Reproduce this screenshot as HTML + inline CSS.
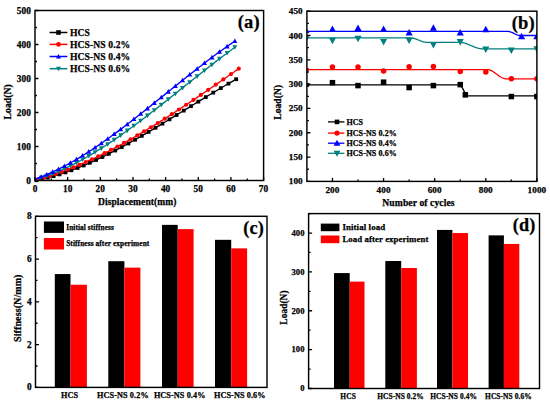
<!DOCTYPE html>
<html><head><meta charset="utf-8"><style>
html,body{margin:0;padding:0;background:#fff;width:550px;height:402px;overflow:hidden}
svg{display:block}
</style></head><body>
<svg width="550" height="402" viewBox="0 0 550 402">
<rect width="550" height="402" fill="#fff"/>
<path d="M35 180.5V177M67.66 180.5V177M100.31 180.5V177M132.97 180.5V177M165.63 180.5V177M198.29 180.5V177M230.94 180.5V177M263.6 180.5V177M51.33 180.5V178.5M83.99 180.5V178.5M116.64 180.5V178.5M149.3 180.5V178.5M181.96 180.5V178.5M214.61 180.5V178.5M247.27 180.5V178.5M35 180.5H38.5M35 146.5H38.5M35 112.5H38.5M35 78.5H38.5M35 44.5H38.5M35 10.5H38.5M35 163.5H37M35 129.5H37M35 95.5H37M35 61.5H37M35 27.5H37" stroke="#000" stroke-width="1.3" fill="none"/>
<text x="35" y="191.67" font-family="Liberation Serif" font-weight="bold" stroke="#000" stroke-width="0.25" letter-spacing="0.1" font-size="9.3" text-anchor="middle" >0</text>
<text x="67.66" y="191.67" font-family="Liberation Serif" font-weight="bold" stroke="#000" stroke-width="0.25" letter-spacing="0.1" font-size="9.3" text-anchor="middle" >10</text>
<text x="100.31" y="191.67" font-family="Liberation Serif" font-weight="bold" stroke="#000" stroke-width="0.25" letter-spacing="0.1" font-size="9.3" text-anchor="middle" >20</text>
<text x="132.97" y="191.67" font-family="Liberation Serif" font-weight="bold" stroke="#000" stroke-width="0.25" letter-spacing="0.1" font-size="9.3" text-anchor="middle" >30</text>
<text x="165.63" y="191.67" font-family="Liberation Serif" font-weight="bold" stroke="#000" stroke-width="0.25" letter-spacing="0.1" font-size="9.3" text-anchor="middle" >40</text>
<text x="198.29" y="191.67" font-family="Liberation Serif" font-weight="bold" stroke="#000" stroke-width="0.25" letter-spacing="0.1" font-size="9.3" text-anchor="middle" >50</text>
<text x="230.94" y="191.67" font-family="Liberation Serif" font-weight="bold" stroke="#000" stroke-width="0.25" letter-spacing="0.1" font-size="9.3" text-anchor="middle" >60</text>
<text x="263.6" y="191.67" font-family="Liberation Serif" font-weight="bold" stroke="#000" stroke-width="0.25" letter-spacing="0.1" font-size="9.3" text-anchor="middle" >70</text>
<text x="31" y="183.57" font-family="Liberation Serif" font-weight="bold" stroke="#000" stroke-width="0.25" letter-spacing="0.1" font-size="9.3" text-anchor="end" >0</text>
<text x="31" y="149.57" font-family="Liberation Serif" font-weight="bold" stroke="#000" stroke-width="0.25" letter-spacing="0.1" font-size="9.3" text-anchor="end" >100</text>
<text x="31" y="115.57" font-family="Liberation Serif" font-weight="bold" stroke="#000" stroke-width="0.25" letter-spacing="0.1" font-size="9.3" text-anchor="end" >200</text>
<text x="31" y="81.57" font-family="Liberation Serif" font-weight="bold" stroke="#000" stroke-width="0.25" letter-spacing="0.1" font-size="9.3" text-anchor="end" >300</text>
<text x="31" y="47.57" font-family="Liberation Serif" font-weight="bold" stroke="#000" stroke-width="0.25" letter-spacing="0.1" font-size="9.3" text-anchor="end" >400</text>
<text x="31" y="13.57" font-family="Liberation Serif" font-weight="bold" stroke="#000" stroke-width="0.25" letter-spacing="0.1" font-size="9.3" text-anchor="end" >500</text>
<text x="137.3" y="204.63" font-family="Liberation Serif" font-weight="bold" stroke="#000" stroke-width="0.25" letter-spacing="0.1" font-size="9.5" text-anchor="middle" >Displacement(mm)</text>
<text transform="translate(7.6,101.8) rotate(-90)" x="0" y="3.17" font-family="Liberation Serif" font-weight="bold" stroke="#000" stroke-width="0.25" letter-spacing="0.1" font-size="9.6" text-anchor="middle" >Load(N)</text>
<text x="248.8" y="28.11" font-family="Liberation Serif" font-weight="bold" stroke="#000" stroke-width="0.25" letter-spacing="0.1" font-size="18.5" text-anchor="middle" >(a)</text>
<path d="M35.98 180.33L37.66 180L39.34 179.65L41.03 179.29L42.71 178.92L44.39 178.53L46.07 178.12L47.76 177.7L49.44 177.26L51.12 176.81L52.8 176.35L54.48 175.87L56.17 175.37L57.85 174.86L59.53 174.34L61.21 173.81L62.9 173.26L64.58 172.7L66.26 172.12L67.94 171.54L69.62 170.94L71.31 170.32L72.99 169.7L74.67 169.06L76.35 168.41L78.04 167.75L79.72 167.08L81.4 166.4L83.08 165.7L84.77 165L86.45 164.28L88.13 163.56L89.81 162.82L91.49 162.07L93.18 161.31L94.86 160.55L96.54 159.77L98.22 158.98L99.91 158.18L101.59 157.38L103.27 156.56L104.95 155.74L106.63 154.91L108.32 154.07L110 153.22L111.68 152.36L113.36 151.5L115.05 150.63L116.73 149.74L118.41 148.86L120.09 147.96L121.77 147.06L123.46 146.15L125.14 145.24L126.82 144.32L128.5 143.39L130.19 142.45L131.87 141.51L133.55 140.57L135.23 139.62L136.91 138.66L138.6 137.7L140.28 136.73L141.96 135.76L143.64 134.78L145.33 133.8L147.01 132.82L148.69 131.83L150.37 130.83L152.06 129.84L153.74 128.84L155.42 127.83L157.1 126.83L158.78 125.82L160.47 124.8L162.15 123.79L163.83 122.77L165.51 121.75L167.2 120.73L168.88 119.7L170.56 118.67L172.24 117.65L173.92 116.62L175.61 115.59L177.29 114.56L178.97 113.52L180.65 112.49L182.34 111.46L184.02 110.42L185.7 109.39L187.38 108.36L189.06 107.32L190.75 106.29L192.43 105.26L194.11 104.22L195.79 103.19L197.48 102.16L199.16 101.14L200.84 100.11L202.52 99.08L204.21 98.06L205.89 97.04L207.57 96.02L209.25 95L210.93 93.99L212.62 92.98L214.3 91.97L215.98 90.97L217.66 89.96L219.35 88.97L221.03 87.97L222.71 86.98L224.39 85.99L226.07 85.01L227.76 84.03L229.44 83.06L231.12 82.09L232.8 81.13L234.49 80.17L236.17 79.22" stroke="#000000" stroke-width="1.35" fill="none" stroke-linejoin="round"/>
<rect x="234.27" y="77.32" width="3.8" height="3.8" fill="#000000"/>
<rect x="226.54" y="81.74" width="3.8" height="3.8" fill="#000000"/>
<rect x="218.89" y="86.21" width="3.8" height="3.8" fill="#000000"/>
<rect x="211.32" y="90.72" width="3.8" height="3.8" fill="#000000"/>
<rect x="203.83" y="95.23" width="3.8" height="3.8" fill="#000000"/>
<rect x="196.42" y="99.75" width="3.8" height="3.8" fill="#000000"/>
<rect x="189.09" y="104.24" width="3.8" height="3.8" fill="#000000"/>
<rect x="181.84" y="108.7" width="3.8" height="3.8" fill="#000000"/>
<rect x="174.66" y="113.1" width="3.8" height="3.8" fill="#000000"/>
<rect x="167.56" y="117.45" width="3.8" height="3.8" fill="#000000"/>
<rect x="160.53" y="121.72" width="3.8" height="3.8" fill="#000000"/>
<rect x="153.57" y="125.9" width="3.8" height="3.8" fill="#000000"/>
<rect x="146.69" y="129.99" width="3.8" height="3.8" fill="#000000"/>
<rect x="139.88" y="133.96" width="3.8" height="3.8" fill="#000000"/>
<rect x="133.14" y="137.82" width="3.8" height="3.8" fill="#000000"/>
<rect x="126.47" y="141.56" width="3.8" height="3.8" fill="#000000"/>
<rect x="119.88" y="145.16" width="3.8" height="3.8" fill="#000000"/>
<rect x="113.35" y="148.62" width="3.8" height="3.8" fill="#000000"/>
<rect x="106.89" y="151.93" width="3.8" height="3.8" fill="#000000"/>
<rect x="100.5" y="155.09" width="3.8" height="3.8" fill="#000000"/>
<rect x="94.17" y="158.09" width="3.8" height="3.8" fill="#000000"/>
<rect x="87.91" y="160.92" width="3.8" height="3.8" fill="#000000"/>
<rect x="81.72" y="163.58" width="3.8" height="3.8" fill="#000000"/>
<rect x="75.59" y="166.07" width="3.8" height="3.8" fill="#000000"/>
<rect x="69.53" y="168.38" width="3.8" height="3.8" fill="#000000"/>
<rect x="63.53" y="170.51" width="3.8" height="3.8" fill="#000000"/>
<rect x="57.59" y="172.45" width="3.8" height="3.8" fill="#000000"/>
<rect x="51.72" y="174.21" width="3.8" height="3.8" fill="#000000"/>
<rect x="45.91" y="175.78" width="3.8" height="3.8" fill="#000000"/>
<rect x="40.16" y="177.16" width="3.8" height="3.8" fill="#000000"/>
<rect x="34.47" y="178.35" width="3.8" height="3.8" fill="#000000"/>
<path d="M35.98 179.94L37.68 179.49L39.39 179.02L41.09 178.54L42.8 178.05L44.5 177.55L46.2 177.03L47.91 176.51L49.61 175.97L51.32 175.42L53.02 174.86L54.73 174.29L56.43 173.71L58.13 173.12L59.84 172.51L61.54 171.9L63.25 171.28L64.95 170.64L66.66 170L68.36 169.34L70.06 168.67L71.77 168L73.47 167.31L75.18 166.62L76.88 165.91L78.58 165.2L80.29 164.48L81.99 163.74L83.7 163L85.4 162.25L87.11 161.48L88.81 160.71L90.51 159.93L92.22 159.15L93.92 158.35L95.63 157.54L97.33 156.73L99.04 155.9L100.74 155.07L102.44 154.23L104.15 153.39L105.85 152.53L107.56 151.67L109.26 150.79L110.96 149.91L112.67 149.03L114.37 148.13L116.08 147.23L117.78 146.32L119.49 145.4L121.19 144.47L122.89 143.54L124.6 142.6L126.3 141.66L128.01 140.71L129.71 139.75L131.42 138.78L133.12 137.81L134.82 136.83L136.53 135.84L138.23 134.85L139.94 133.85L141.64 132.85L143.34 131.84L145.05 130.82L146.75 129.8L148.46 128.77L150.16 127.74L151.87 126.7L153.57 125.65L155.27 124.61L156.98 123.55L158.68 122.49L160.39 121.43L162.09 120.36L163.8 119.28L165.5 118.2L167.2 117.12L168.91 116.03L170.61 114.94L172.32 113.84L174.02 112.74L175.72 111.63L177.43 110.52L179.13 109.41L180.84 108.29L182.54 107.17L184.25 106.04L185.95 104.92L187.65 103.78L189.36 102.65L191.06 101.51L192.77 100.37L194.47 99.22L196.18 98.07L197.88 96.92L199.58 95.77L201.29 94.61L202.99 93.45L204.7 92.29L206.4 91.13L208.1 89.96L209.81 88.79L211.51 87.62L213.22 86.45L214.92 85.28L216.63 84.1L218.33 82.92L220.03 81.74L221.74 80.56L223.44 79.38L225.15 78.19L226.85 77.01L228.56 75.82L230.26 74.63L231.96 73.45L233.67 72.26L235.37 71.07L237.08 69.88L238.78 68.68" stroke="#ff0000" stroke-width="1.35" fill="none" stroke-linejoin="round"/>
<circle cx="238.78" cy="68.68" r="2.1" fill="#ff0000"/>
<circle cx="231.02" cy="74.1" r="2.1" fill="#ff0000"/>
<circle cx="223.35" cy="79.44" r="2.1" fill="#ff0000"/>
<circle cx="215.75" cy="84.7" r="2.1" fill="#ff0000"/>
<circle cx="208.24" cy="89.87" r="2.1" fill="#ff0000"/>
<circle cx="200.8" cy="94.94" r="2.1" fill="#ff0000"/>
<circle cx="193.44" cy="99.91" r="2.1" fill="#ff0000"/>
<circle cx="186.16" cy="104.77" r="2.1" fill="#ff0000"/>
<circle cx="178.96" cy="109.52" r="2.1" fill="#ff0000"/>
<circle cx="171.83" cy="114.15" r="2.1" fill="#ff0000"/>
<circle cx="164.78" cy="118.66" r="2.1" fill="#ff0000"/>
<circle cx="157.8" cy="123.04" r="2.1" fill="#ff0000"/>
<circle cx="150.89" cy="127.29" r="2.1" fill="#ff0000"/>
<circle cx="144.06" cy="131.41" r="2.1" fill="#ff0000"/>
<circle cx="137.3" cy="135.4" r="2.1" fill="#ff0000"/>
<circle cx="130.6" cy="139.24" r="2.1" fill="#ff0000"/>
<circle cx="123.98" cy="142.94" r="2.1" fill="#ff0000"/>
<circle cx="117.43" cy="146.5" r="2.1" fill="#ff0000"/>
<circle cx="110.95" cy="149.92" r="2.1" fill="#ff0000"/>
<circle cx="104.54" cy="153.19" r="2.1" fill="#ff0000"/>
<circle cx="98.19" cy="156.32" r="2.1" fill="#ff0000"/>
<circle cx="91.91" cy="159.29" r="2.1" fill="#ff0000"/>
<circle cx="85.69" cy="162.12" r="2.1" fill="#ff0000"/>
<circle cx="79.54" cy="164.79" r="2.1" fill="#ff0000"/>
<circle cx="73.46" cy="167.32" r="2.1" fill="#ff0000"/>
<circle cx="67.44" cy="169.7" r="2.1" fill="#ff0000"/>
<circle cx="61.48" cy="171.92" r="2.1" fill="#ff0000"/>
<circle cx="55.59" cy="174" r="2.1" fill="#ff0000"/>
<circle cx="49.75" cy="175.92" r="2.1" fill="#ff0000"/>
<circle cx="43.98" cy="177.7" r="2.1" fill="#ff0000"/>
<circle cx="38.27" cy="179.33" r="2.1" fill="#ff0000"/>
<path d="M35.98 179.21L37.65 178.74L39.32 178.25L40.99 177.74L42.66 177.21L44.34 176.66L46.01 176.1L47.68 175.51L49.35 174.91L51.02 174.29L52.69 173.65L54.36 172.99L56.04 172.32L57.71 171.62L59.38 170.92L61.05 170.19L62.72 169.45L64.39 168.69L66.06 167.92L67.73 167.13L69.41 166.33L71.08 165.51L72.75 164.67L74.42 163.82L76.09 162.96L77.76 162.08L79.43 161.19L81.1 160.28L82.78 159.36L84.45 158.42L86.12 157.48L87.79 156.52L89.46 155.54L91.13 154.56L92.8 153.56L94.47 152.55L96.15 151.52L97.82 150.49L99.49 149.44L101.16 148.39L102.83 147.32L104.5 146.24L106.17 145.15L107.84 144.05L109.52 142.94L111.19 141.82L112.86 140.69L114.53 139.55L116.2 138.41L117.87 137.25L119.54 136.08L121.21 134.91L122.89 133.72L124.56 132.53L126.23 131.33L127.9 130.13L129.57 128.91L131.24 127.69L132.91 126.46L134.59 125.23L136.26 123.99L137.93 122.74L139.6 121.49L141.27 120.23L142.94 118.96L144.61 117.69L146.28 116.41L147.96 115.13L149.63 113.85L151.3 112.56L152.97 111.26L154.64 109.96L156.31 108.66L157.98 107.35L159.65 106.04L161.33 104.73L163 103.42L164.67 102.1L166.34 100.78L168.01 99.45L169.68 98.13L171.35 96.8L173.02 95.47L174.7 94.14L176.37 92.81L178.04 91.48L179.71 90.15L181.38 88.81L183.05 87.48L184.72 86.15L186.39 84.81L188.07 83.48L189.74 82.15L191.41 80.82L193.08 79.48L194.75 78.16L196.42 76.83L198.09 75.5L199.76 74.18L201.44 72.86L203.11 71.54L204.78 70.22L206.45 68.91L208.12 67.6L209.79 66.29L211.46 64.99L213.14 63.69L214.81 62.39L216.48 61.1L218.15 59.81L219.82 58.53L221.49 57.25L223.16 55.98L224.83 54.71L226.51 53.45L228.18 52.2L229.85 50.95L231.52 49.7L233.19 48.47L234.86 47.24" stroke="#008080" stroke-width="1.35" fill="none" stroke-linejoin="round"/>
<path d="M234.86 49.86L237.39 45.27L232.33 45.27Z" fill="#008080"/>
<path d="M227.15 55.59L229.68 51L224.62 51Z" fill="#008080"/>
<path d="M219.51 61.39L222.04 56.8L216.98 56.8Z" fill="#008080"/>
<path d="M211.96 67.22L214.49 62.64L209.43 62.64Z" fill="#008080"/>
<path d="M204.48 73.08L207.01 68.49L201.95 68.49Z" fill="#008080"/>
<path d="M197.09 78.92L199.62 74.34L194.56 74.34Z" fill="#008080"/>
<path d="M189.77 84.75L192.3 80.16L187.24 80.16Z" fill="#008080"/>
<path d="M182.52 90.52L185.05 85.93L179.99 85.93Z" fill="#008080"/>
<path d="M175.36 96.24L177.89 91.65L172.83 91.65Z" fill="#008080"/>
<path d="M168.27 101.87L170.8 97.28L165.74 97.28Z" fill="#008080"/>
<path d="M161.25 107.41L163.78 102.82L158.72 102.82Z" fill="#008080"/>
<path d="M154.31 112.84L156.84 108.25L151.78 108.25Z" fill="#008080"/>
<path d="M147.44 118.15L149.97 113.56L144.91 113.56Z" fill="#008080"/>
<path d="M140.64 123.32L143.17 118.73L138.11 118.73Z" fill="#008080"/>
<path d="M133.91 128.35L136.44 123.76L131.38 123.76Z" fill="#008080"/>
<path d="M127.26 133.21L129.79 128.62L124.73 128.62Z" fill="#008080"/>
<path d="M120.67 137.91L123.2 133.32L118.14 133.32Z" fill="#008080"/>
<path d="M114.16 142.43L116.69 137.84L111.63 137.84Z" fill="#008080"/>
<path d="M107.71 146.76L110.24 142.17L105.18 142.17Z" fill="#008080"/>
<path d="M101.33 150.9L103.86 146.31L98.8 146.31Z" fill="#008080"/>
<path d="M95.01 154.84L97.54 150.25L92.48 150.25Z" fill="#008080"/>
<path d="M88.77 158.57L91.3 153.98L86.24 153.98Z" fill="#008080"/>
<path d="M82.59 162.08L85.12 157.5L80.06 157.5Z" fill="#008080"/>
<path d="M76.47 165.38L79 160.79L73.94 160.79Z" fill="#008080"/>
<path d="M70.42 168.45L72.95 163.87L67.89 163.87Z" fill="#008080"/>
<path d="M64.43 171.3L66.96 166.71L61.9 166.71Z" fill="#008080"/>
<path d="M58.5 173.91L61.03 169.32L55.97 169.32Z" fill="#008080"/>
<path d="M52.64 176.29L55.17 171.7L50.11 171.7Z" fill="#008080"/>
<path d="M46.84 178.43L49.37 173.84L44.31 173.84Z" fill="#008080"/>
<path d="M41.09 180.33L43.62 175.74L38.56 175.74Z" fill="#008080"/>
<path d="M35.98 178.78L37.65 178.19L39.32 177.57L40.99 176.93L42.66 176.27L44.34 175.6L46.01 174.91L47.68 174.2L49.35 173.47L51.02 172.72L52.69 171.96L54.36 171.18L56.04 170.38L57.71 169.56L59.38 168.73L61.05 167.89L62.72 167.03L64.39 166.15L66.06 165.25L67.73 164.35L69.41 163.42L71.08 162.49L72.75 161.53L74.42 160.57L76.09 159.59L77.76 158.6L79.43 157.59L81.1 156.57L82.78 155.54L84.45 154.49L86.12 153.44L87.79 152.37L89.46 151.29L91.13 150.19L92.8 149.09L94.47 147.98L96.15 146.85L97.82 145.72L99.49 144.57L101.16 143.42L102.83 142.25L104.5 141.07L106.17 139.89L107.84 138.7L109.52 137.5L111.19 136.29L112.86 135.07L114.53 133.84L116.2 132.61L117.87 131.37L119.54 130.12L121.21 128.86L122.89 127.6L124.56 126.33L126.23 125.06L127.9 123.77L129.57 122.49L131.24 121.2L132.91 119.9L134.59 118.6L136.26 117.29L137.93 115.98L139.6 114.67L141.27 113.35L142.94 112.02L144.61 110.7L146.28 109.37L147.96 108.04L149.63 106.7L151.3 105.37L152.97 104.03L154.64 102.69L156.31 101.34L157.98 100L159.65 98.65L161.33 97.31L163 95.96L164.67 94.62L166.34 93.27L168.01 91.92L169.68 90.58L171.35 89.23L173.02 87.89L174.7 86.54L176.37 85.2L178.04 83.86L179.71 82.52L181.38 81.19L183.05 79.85L184.72 78.52L186.39 77.19L188.07 75.87L189.74 74.55L191.41 73.23L193.08 71.92L194.75 70.61L196.42 69.3L198.09 68L199.76 66.71L201.44 65.42L203.11 64.13L204.78 62.85L206.45 61.58L208.12 60.31L209.79 59.05L211.46 57.8L213.14 56.55L214.81 55.32L216.48 54.08L218.15 52.86L219.82 51.65L221.49 50.44L223.16 49.24L224.83 48.05L226.51 46.87L228.18 45.7L229.85 44.54L231.52 43.38L233.19 42.24L234.86 41.11" stroke="#0000ff" stroke-width="1.35" fill="none" stroke-linejoin="round"/>
<path d="M234.86 38.49L237.39 43.08L232.33 43.08Z" fill="#0000ff"/>
<path d="M227.15 43.8L229.68 48.38L224.62 48.38Z" fill="#0000ff"/>
<path d="M219.51 49.25L222.04 53.84L216.98 53.84Z" fill="#0000ff"/>
<path d="M211.96 54.81L214.49 59.4L209.43 59.4Z" fill="#0000ff"/>
<path d="M204.48 60.46L207.01 65.05L201.95 65.05Z" fill="#0000ff"/>
<path d="M197.09 66.16L199.62 70.75L194.56 70.75Z" fill="#0000ff"/>
<path d="M189.77 71.9L192.3 76.49L187.24 76.49Z" fill="#0000ff"/>
<path d="M182.52 77.65L185.05 82.24L179.99 82.24Z" fill="#0000ff"/>
<path d="M175.36 83.39L177.89 87.98L172.83 87.98Z" fill="#0000ff"/>
<path d="M168.27 89.09L170.8 93.68L165.74 93.68Z" fill="#0000ff"/>
<path d="M161.25 94.75L163.78 99.33L158.72 99.33Z" fill="#0000ff"/>
<path d="M154.31 100.33L156.84 104.92L151.78 104.92Z" fill="#0000ff"/>
<path d="M147.44 105.83L149.97 110.42L144.91 110.42Z" fill="#0000ff"/>
<path d="M140.64 111.22L143.17 115.81L138.11 115.81Z" fill="#0000ff"/>
<path d="M133.91 116.5L136.44 121.09L131.38 121.09Z" fill="#0000ff"/>
<path d="M127.26 121.64L129.79 126.23L124.73 126.23Z" fill="#0000ff"/>
<path d="M120.67 126.65L123.2 131.24L118.14 131.24Z" fill="#0000ff"/>
<path d="M114.16 131.49L116.69 136.08L111.63 136.08Z" fill="#0000ff"/>
<path d="M107.71 136.17L110.24 140.76L105.18 140.76Z" fill="#0000ff"/>
<path d="M101.33 140.68L103.86 145.26L98.8 145.26Z" fill="#0000ff"/>
<path d="M95.01 144.99L97.54 149.58L92.48 149.58Z" fill="#0000ff"/>
<path d="M88.77 149.11L91.3 153.7L86.24 153.7Z" fill="#0000ff"/>
<path d="M82.59 153.03L85.12 157.62L80.06 157.62Z" fill="#0000ff"/>
<path d="M76.47 156.74L79 161.33L73.94 161.33Z" fill="#0000ff"/>
<path d="M70.42 160.24L72.95 164.82L67.89 164.82Z" fill="#0000ff"/>
<path d="M64.43 163.51L66.96 168.09L61.9 168.09Z" fill="#0000ff"/>
<path d="M58.5 166.55L61.03 171.14L55.97 171.14Z" fill="#0000ff"/>
<path d="M52.64 169.36L55.17 173.95L50.11 173.95Z" fill="#0000ff"/>
<path d="M46.84 171.93L49.37 176.52L44.31 176.52Z" fill="#0000ff"/>
<path d="M41.09 174.27L43.62 178.86L38.56 178.86Z" fill="#0000ff"/>
<path d="M49.6 32.5H67.4" stroke="#000000" stroke-width="1.5"/>
<rect x="56.2" y="30.2" width="4.6" height="4.6" fill="#000000"/>
<text x="70" y="35.67" font-family="Liberation Serif" font-weight="bold" stroke="#000" stroke-width="0.25" letter-spacing="0.1" font-size="9.6" text-anchor="start" >HCS</text>
<path d="M49.6 44.4H67.4" stroke="#ff0000" stroke-width="1.5"/>
<circle cx="58.5" cy="44.4" r="2.3" fill="#ff0000"/>
<text x="70" y="47.57" font-family="Liberation Serif" font-weight="bold" stroke="#000" stroke-width="0.25" letter-spacing="0.1" font-size="9.6" text-anchor="start" >HCS-NS 0.2%</text>
<path d="M49.6 56.5H67.4" stroke="#0000ff" stroke-width="1.5"/>
<path d="M58.5 53.88L61.03 58.47L55.97 58.47Z" fill="#0000ff"/>
<text x="70" y="59.67" font-family="Liberation Serif" font-weight="bold" stroke="#000" stroke-width="0.25" letter-spacing="0.1" font-size="9.6" text-anchor="start" >HCS-NS 0.4%</text>
<path d="M49.6 68.7H67.4" stroke="#008080" stroke-width="1.5"/>
<path d="M58.5 71.32L61.03 66.73L55.97 66.73Z" fill="#008080"/>
<text x="70" y="71.87" font-family="Liberation Serif" font-weight="bold" stroke="#000" stroke-width="0.25" letter-spacing="0.1" font-size="9.6" text-anchor="start" >HCS-NS 0.6%</text>
<rect x="35" y="10.5" width="228.6" height="170" fill="none" stroke="#000" stroke-width="1.45"/>
<path d="M332.46 181.4V177.9M383.57 181.4V177.9M434.68 181.4V177.9M485.79 181.4V177.9M536.9 181.4V177.9M358.01 181.4V179.4M409.12 181.4V179.4M460.23 181.4V179.4M511.34 181.4V179.4M306.9 181.4H310.4M306.9 157.09H310.4M306.9 132.77H310.4M306.9 108.46H310.4M306.9 84.14H310.4M306.9 59.83H310.4M306.9 35.51H310.4M306.9 11.2H310.4M306.9 169.24H308.9M306.9 144.93H308.9M306.9 120.61H308.9M306.9 96.3H308.9M306.9 71.99H308.9M306.9 47.67H308.9M306.9 23.36H308.9" stroke="#000" stroke-width="1.3" fill="none"/>
<text x="332.46" y="193.34" font-family="Liberation Serif" font-weight="bold" stroke="#000" stroke-width="0.25" letter-spacing="0.1" font-size="9.2" text-anchor="middle" >200</text>
<text x="383.57" y="193.34" font-family="Liberation Serif" font-weight="bold" stroke="#000" stroke-width="0.25" letter-spacing="0.1" font-size="9.2" text-anchor="middle" >400</text>
<text x="434.68" y="193.34" font-family="Liberation Serif" font-weight="bold" stroke="#000" stroke-width="0.25" letter-spacing="0.1" font-size="9.2" text-anchor="middle" >600</text>
<text x="485.79" y="193.34" font-family="Liberation Serif" font-weight="bold" stroke="#000" stroke-width="0.25" letter-spacing="0.1" font-size="9.2" text-anchor="middle" >800</text>
<text x="536.9" y="193.34" font-family="Liberation Serif" font-weight="bold" stroke="#000" stroke-width="0.25" letter-spacing="0.1" font-size="9.2" text-anchor="middle" >1000</text>
<text x="302.8" y="184.44" font-family="Liberation Serif" font-weight="bold" stroke="#000" stroke-width="0.25" letter-spacing="0.1" font-size="9.2" text-anchor="end" >100</text>
<text x="302.8" y="160.12" font-family="Liberation Serif" font-weight="bold" stroke="#000" stroke-width="0.25" letter-spacing="0.1" font-size="9.2" text-anchor="end" >150</text>
<text x="302.8" y="135.81" font-family="Liberation Serif" font-weight="bold" stroke="#000" stroke-width="0.25" letter-spacing="0.1" font-size="9.2" text-anchor="end" >200</text>
<text x="302.8" y="111.49" font-family="Liberation Serif" font-weight="bold" stroke="#000" stroke-width="0.25" letter-spacing="0.1" font-size="9.2" text-anchor="end" >250</text>
<text x="302.8" y="87.18" font-family="Liberation Serif" font-weight="bold" stroke="#000" stroke-width="0.25" letter-spacing="0.1" font-size="9.2" text-anchor="end" >300</text>
<text x="302.8" y="62.86" font-family="Liberation Serif" font-weight="bold" stroke="#000" stroke-width="0.25" letter-spacing="0.1" font-size="9.2" text-anchor="end" >350</text>
<text x="302.8" y="38.55" font-family="Liberation Serif" font-weight="bold" stroke="#000" stroke-width="0.25" letter-spacing="0.1" font-size="9.2" text-anchor="end" >400</text>
<text x="302.8" y="14.24" font-family="Liberation Serif" font-weight="bold" stroke="#000" stroke-width="0.25" letter-spacing="0.1" font-size="9.2" text-anchor="end" >450</text>
<text x="418.5" y="206.17" font-family="Liberation Serif" font-weight="bold" stroke="#000" stroke-width="0.25" letter-spacing="0.1" font-size="9.6" text-anchor="middle" >Number of cycles</text>
<text transform="translate(278,102.3) rotate(-90)" x="0" y="3.14" font-family="Liberation Serif" font-weight="bold" stroke="#000" stroke-width="0.25" letter-spacing="0.1" font-size="9.5" text-anchor="middle" >Load(N)</text>
<text x="523.3" y="29.11" font-family="Liberation Serif" font-weight="bold" stroke="#000" stroke-width="0.25" letter-spacing="0.1" font-size="18.5" text-anchor="middle" >(b)</text>
<clipPath id="cb"><rect x="306.9" y="11.2" width="230" height="170.2"/></clipPath>
<g clip-path="url(#cb)">
<path d="M306.9 84.97L307.41 84.97L307.92 84.97L308.43 84.97L308.94 84.97L309.46 84.97L309.97 84.97L310.48 84.97L310.99 84.97L311.5 84.97L312.01 84.97L312.52 84.97L313.03 84.97L313.54 84.97L314.06 84.97L314.57 84.97L315.08 84.97L315.59 84.97L316.1 84.97L316.61 84.97L317.12 84.97L317.63 84.97L318.14 84.97L318.66 84.97L319.17 84.97L319.68 84.97L320.19 84.97L320.7 84.97L321.21 84.97L321.72 84.97L322.23 84.97L322.74 84.97L323.26 84.97L323.77 84.97L324.28 84.97L324.79 84.97L325.3 84.97L325.81 84.97L326.32 84.97L326.83 84.97L327.34 84.97L327.86 84.97L328.37 84.97L328.88 84.97L329.39 84.97L329.9 84.97L330.41 84.97L330.92 84.97L331.43 84.97L331.94 84.97L332.46 84.97L332.97 84.97L333.48 84.97L333.99 84.97L334.5 84.97L335.01 84.97L335.52 84.97L336.03 84.97L336.54 84.97L337.06 84.97L337.57 84.97L338.08 84.97L338.59 84.97L339.1 84.97L339.61 84.97L340.12 84.97L340.63 84.97L341.14 84.97L341.66 84.97L342.17 84.97L342.68 84.97L343.19 84.97L343.7 84.97L344.21 84.97L344.72 84.97L345.23 84.97L345.74 84.97L346.26 84.97L346.77 84.97L347.28 84.97L347.79 84.97L348.3 84.97L348.81 84.97L349.32 84.97L349.83 84.97L350.34 84.97L350.86 84.97L351.37 84.97L351.88 84.97L352.39 84.97L352.9 84.97L353.41 84.97L353.92 84.97L354.43 84.97L354.94 84.97L355.46 84.97L355.97 84.97L356.48 84.97L356.99 84.97L357.5 84.97L358.01 84.97L358.52 84.97L359.03 84.97L359.54 84.97L360.06 84.97L360.57 84.97L361.08 84.97L361.59 84.97L362.1 84.97L362.61 84.97L363.12 84.97L363.63 84.97L364.14 84.97L364.66 84.97L365.17 84.97L365.68 84.97L366.19 84.97L366.7 84.97L367.21 84.97L367.72 84.97L368.23 84.97L368.74 84.97L369.26 84.97L369.77 84.97L370.28 84.97L370.79 84.97L371.3 84.97L371.81 84.97L372.32 84.97L372.83 84.97L373.34 84.97L373.86 84.97L374.37 84.97L374.88 84.97L375.39 84.97L375.9 84.97L376.41 84.97L376.92 84.97L377.43 84.97L377.94 84.97L378.46 84.97L378.97 84.97L379.48 84.97L379.99 84.97L380.5 84.97L381.01 84.97L381.52 84.97L382.03 84.97L382.54 84.97L383.06 84.97L383.57 84.97L384.08 84.97L384.59 84.97L385.1 84.97L385.61 84.97L386.12 84.97L386.63 84.97L387.14 84.97L387.66 84.97L388.17 84.97L388.68 84.97L389.19 84.97L389.7 84.97L390.21 84.97L390.72 84.97L391.23 84.97L391.74 84.97L392.26 84.97L392.77 84.97L393.28 84.97L393.79 84.97L394.3 84.97L394.81 84.97L395.32 84.97L395.83 84.97L396.34 84.97L396.86 84.97L397.37 84.97L397.88 84.97L398.39 84.97L398.9 84.97L399.41 84.97L399.92 84.97L400.43 84.97L400.94 84.97L401.46 84.97L401.97 84.97L402.48 84.97L402.99 84.97L403.5 84.97L404.01 84.97L404.52 84.97L405.03 84.97L405.54 84.97L406.06 84.97L406.57 84.97L407.08 84.97L407.59 84.97L408.1 84.97L408.61 84.97L409.12 84.97L409.63 84.97L410.14 84.97L410.66 84.97L411.17 84.97L411.68 84.97L412.19 84.97L412.7 84.97L413.21 84.97L413.72 84.97L414.23 84.97L414.74 84.97L415.26 84.97L415.77 84.97L416.28 84.97L416.79 84.97L417.3 84.97L417.81 84.97L418.32 84.97L418.83 84.97L419.34 84.97L419.86 84.97L420.37 84.97L420.88 84.97L421.39 84.97L421.9 84.97L422.41 84.97L422.92 84.97L423.43 84.97L423.94 84.97L424.46 84.97L424.97 84.97L425.48 84.97L425.99 84.97L426.5 84.97L427.01 84.97L427.52 84.97L428.03 84.97L428.54 84.97L429.06 84.97L429.57 84.97L430.08 84.97L430.59 84.97L431.1 84.97L431.61 84.97L432.12 84.97L432.63 84.97L433.14 84.97L433.66 84.97L434.17 84.97L434.68 84.97L435.19 84.97L435.7 84.97L436.21 84.97L436.72 84.97L437.23 84.97L437.74 84.97L438.26 84.97L438.77 84.97L439.28 84.97L439.79 84.97L440.3 84.97L440.81 84.97L441.32 84.97L441.83 84.97L442.34 84.97L442.86 84.97L443.37 84.97L443.88 84.97L444.39 84.97L444.9 84.97L445.41 84.97L445.92 84.97L446.43 84.97L446.94 84.97L447.46 84.97L447.97 84.97L448.48 84.97L448.99 84.97L449.5 84.97L450.01 84.97L450.52 84.97L451.03 84.97L451.54 84.97L452.06 84.97L452.57 84.97L453.08 84.97L453.59 84.97L454.1 84.97L454.61 84.97L455.12 84.97L455.63 84.97L456.14 84.97L456.66 84.97L457.17 84.97L457.68 84.97L458.19 84.97L458.7 84.97L459.21 84.97L459.72 84.99L460.23 85.19L460.74 85.57L461.26 86.13L461.77 86.84L462.28 87.68L462.79 88.62L463.3 89.62L463.81 90.65L464.32 91.67L464.83 92.64L465.34 93.54L465.86 94.32L466.37 94.95L466.88 95.43L467.39 95.72L467.9 95.81L468.41 95.81L468.92 95.81L469.43 95.81L469.94 95.81L470.46 95.81L470.97 95.81L471.48 95.81L471.99 95.81L472.5 95.81L473.01 95.81L473.52 95.81L474.03 95.81L474.54 95.81L475.06 95.81L475.57 95.81L476.08 95.81L476.59 95.81L477.1 95.81L477.61 95.81L478.12 95.81L478.63 95.81L479.14 95.81L479.66 95.81L480.17 95.81L480.68 95.81L481.19 95.81L481.7 95.81L482.21 95.81L482.72 95.81L483.23 95.81L483.74 95.81L484.26 95.81L484.77 95.81L485.28 95.81L485.79 95.81L486.3 95.81L486.81 95.81L487.32 95.81L487.83 95.81L488.34 95.81L488.86 95.81L489.37 95.81L489.88 95.81L490.39 95.81L490.9 95.81L491.41 95.81L491.92 95.81L492.43 95.81L492.94 95.81L493.46 95.81L493.97 95.81L494.48 95.81L494.99 95.81L495.5 95.81L496.01 95.81L496.52 95.81L497.03 95.81L497.54 95.81L498.06 95.81L498.57 95.81L499.08 95.81L499.59 95.81L500.1 95.81L500.61 95.81L501.12 95.81L501.63 95.81L502.14 95.81L502.66 95.81L503.17 95.81L503.68 95.81L504.19 95.81L504.7 95.81L505.21 95.81L505.72 95.81L506.23 95.81L506.74 95.81L507.26 95.81L507.77 95.81L508.28 95.81L508.79 95.81L509.3 95.81L509.81 95.81L510.32 95.81L510.83 95.81L511.34 95.81L511.86 95.81L512.37 95.81L512.88 95.81L513.39 95.81L513.9 95.81L514.41 95.81L514.92 95.81L515.43 95.81L515.94 95.81L516.46 95.81L516.97 95.81L517.48 95.81L517.99 95.81L518.5 95.81L519.01 95.81L519.52 95.81L520.03 95.81L520.54 95.81L521.06 95.81L521.57 95.81L522.08 95.81L522.59 95.81L523.1 95.81L523.61 95.81L524.12 95.81L524.63 95.81L525.14 95.81L525.66 95.81L526.17 95.81L526.68 95.81L527.19 95.81L527.7 95.81L528.21 95.81L528.72 95.81L529.23 95.81L529.74 95.81L530.26 95.81L530.77 95.81L531.28 95.81L531.79 95.81L532.3 95.81L532.81 95.81L533.32 95.81L533.83 95.81L534.34 95.81L534.86 95.81L535.37 95.81L535.88 95.81L536.39 95.81L536.9 95.81" stroke="#000000" stroke-width="1.3" fill="none"/>
<path d="M306.9 69.55L307.41 69.55L307.92 69.55L308.43 69.55L308.94 69.55L309.46 69.55L309.97 69.55L310.48 69.55L310.99 69.55L311.5 69.55L312.01 69.55L312.52 69.55L313.03 69.55L313.54 69.55L314.06 69.55L314.57 69.55L315.08 69.55L315.59 69.55L316.1 69.55L316.61 69.55L317.12 69.55L317.63 69.55L318.14 69.55L318.66 69.55L319.17 69.55L319.68 69.55L320.19 69.55L320.7 69.55L321.21 69.55L321.72 69.55L322.23 69.55L322.74 69.55L323.26 69.55L323.77 69.55L324.28 69.55L324.79 69.55L325.3 69.55L325.81 69.55L326.32 69.55L326.83 69.55L327.34 69.55L327.86 69.55L328.37 69.55L328.88 69.55L329.39 69.55L329.9 69.55L330.41 69.55L330.92 69.55L331.43 69.55L331.94 69.55L332.46 69.55L332.97 69.55L333.48 69.55L333.99 69.55L334.5 69.55L335.01 69.55L335.52 69.55L336.03 69.55L336.54 69.55L337.06 69.55L337.57 69.55L338.08 69.55L338.59 69.55L339.1 69.55L339.61 69.55L340.12 69.55L340.63 69.55L341.14 69.55L341.66 69.55L342.17 69.55L342.68 69.55L343.19 69.55L343.7 69.55L344.21 69.55L344.72 69.55L345.23 69.55L345.74 69.55L346.26 69.55L346.77 69.55L347.28 69.55L347.79 69.55L348.3 69.55L348.81 69.55L349.32 69.55L349.83 69.55L350.34 69.55L350.86 69.55L351.37 69.55L351.88 69.55L352.39 69.55L352.9 69.55L353.41 69.55L353.92 69.55L354.43 69.55L354.94 69.55L355.46 69.55L355.97 69.55L356.48 69.55L356.99 69.55L357.5 69.55L358.01 69.55L358.52 69.55L359.03 69.55L359.54 69.55L360.06 69.55L360.57 69.55L361.08 69.55L361.59 69.55L362.1 69.55L362.61 69.55L363.12 69.55L363.63 69.55L364.14 69.55L364.66 69.55L365.17 69.55L365.68 69.55L366.19 69.55L366.7 69.55L367.21 69.55L367.72 69.55L368.23 69.55L368.74 69.55L369.26 69.55L369.77 69.55L370.28 69.55L370.79 69.55L371.3 69.55L371.81 69.55L372.32 69.55L372.83 69.55L373.34 69.55L373.86 69.55L374.37 69.55L374.88 69.55L375.39 69.55L375.9 69.55L376.41 69.55L376.92 69.55L377.43 69.55L377.94 69.55L378.46 69.55L378.97 69.55L379.48 69.55L379.99 69.55L380.5 69.55L381.01 69.55L381.52 69.55L382.03 69.55L382.54 69.55L383.06 69.55L383.57 69.55L384.08 69.55L384.59 69.55L385.1 69.55L385.61 69.55L386.12 69.55L386.63 69.55L387.14 69.55L387.66 69.55L388.17 69.55L388.68 69.55L389.19 69.55L389.7 69.55L390.21 69.55L390.72 69.55L391.23 69.55L391.74 69.55L392.26 69.55L392.77 69.55L393.28 69.55L393.79 69.55L394.3 69.55L394.81 69.55L395.32 69.55L395.83 69.55L396.34 69.55L396.86 69.55L397.37 69.55L397.88 69.55L398.39 69.55L398.9 69.55L399.41 69.55L399.92 69.55L400.43 69.55L400.94 69.55L401.46 69.55L401.97 69.55L402.48 69.55L402.99 69.55L403.5 69.55L404.01 69.55L404.52 69.55L405.03 69.55L405.54 69.55L406.06 69.55L406.57 69.55L407.08 69.55L407.59 69.55L408.1 69.55L408.61 69.55L409.12 69.55L409.63 69.55L410.14 69.55L410.66 69.55L411.17 69.55L411.68 69.55L412.19 69.55L412.7 69.55L413.21 69.55L413.72 69.55L414.23 69.55L414.74 69.55L415.26 69.55L415.77 69.55L416.28 69.55L416.79 69.55L417.3 69.55L417.81 69.55L418.32 69.55L418.83 69.55L419.34 69.55L419.86 69.55L420.37 69.55L420.88 69.55L421.39 69.55L421.9 69.55L422.41 69.55L422.92 69.55L423.43 69.55L423.94 69.55L424.46 69.55L424.97 69.55L425.48 69.55L425.99 69.55L426.5 69.55L427.01 69.55L427.52 69.55L428.03 69.55L428.54 69.55L429.06 69.55L429.57 69.55L430.08 69.55L430.59 69.55L431.1 69.55L431.61 69.55L432.12 69.55L432.63 69.55L433.14 69.55L433.66 69.55L434.17 69.55L434.68 69.55L435.19 69.55L435.7 69.55L436.21 69.55L436.72 69.55L437.23 69.55L437.74 69.55L438.26 69.55L438.77 69.55L439.28 69.55L439.79 69.55L440.3 69.55L440.81 69.55L441.32 69.55L441.83 69.55L442.34 69.55L442.86 69.55L443.37 69.55L443.88 69.55L444.39 69.55L444.9 69.55L445.41 69.55L445.92 69.55L446.43 69.55L446.94 69.55L447.46 69.55L447.97 69.55L448.48 69.55L448.99 69.55L449.5 69.55L450.01 69.55L450.52 69.55L451.03 69.55L451.54 69.55L452.06 69.55L452.57 69.55L453.08 69.55L453.59 69.55L454.1 69.55L454.61 69.55L455.12 69.55L455.63 69.55L456.14 69.55L456.66 69.55L457.17 69.55L457.68 69.55L458.19 69.55L458.7 69.55L459.21 69.55L459.72 69.55L460.23 69.55L460.74 69.55L461.26 69.55L461.77 69.55L462.28 69.55L462.79 69.55L463.3 69.55L463.81 69.55L464.32 69.55L464.83 69.55L465.34 69.55L465.86 69.55L466.37 69.55L466.88 69.55L467.39 69.55L467.9 69.55L468.41 69.55L468.92 69.55L469.43 69.55L469.94 69.55L470.46 69.55L470.97 69.55L471.48 69.55L471.99 69.55L472.5 69.55L473.01 69.55L473.52 69.55L474.03 69.55L474.54 69.55L475.06 69.55L475.57 69.55L476.08 69.55L476.59 69.55L477.1 69.55L477.61 69.55L478.12 69.55L478.63 69.55L479.14 69.55L479.66 69.55L480.17 69.55L480.68 69.55L481.19 69.55L481.7 69.55L482.21 69.55L482.72 69.55L483.23 69.55L483.74 69.55L484.26 69.55L484.77 69.55L485.28 69.55L485.79 69.55L486.3 69.55L486.81 69.55L487.32 69.56L487.83 69.59L488.34 69.66L488.86 69.75L489.37 69.88L489.88 70.04L490.39 70.22L490.9 70.44L491.41 70.68L491.92 70.94L492.43 71.23L492.94 71.54L493.46 71.86L493.97 72.21L494.48 72.56L494.99 72.93L495.5 73.31L496.01 73.69L496.52 74.08L497.03 74.46L497.54 74.85L498.06 75.23L498.57 75.6L499.08 75.96L499.59 76.31L500.1 76.65L500.61 76.97L501.12 77.27L501.63 77.54L502.14 77.79L502.66 78.02L503.17 78.22L503.68 78.39L504.19 78.54L504.7 78.65L505.21 78.73L505.72 78.78L506.23 78.79L506.74 78.79L507.26 78.79L507.77 78.79L508.28 78.79L508.79 78.79L509.3 78.79L509.81 78.79L510.32 78.79L510.83 78.79L511.34 78.79L511.86 78.79L512.37 78.79L512.88 78.79L513.39 78.79L513.9 78.79L514.41 78.79L514.92 78.79L515.43 78.79L515.94 78.79L516.46 78.79L516.97 78.79L517.48 78.79L517.99 78.79L518.5 78.79L519.01 78.79L519.52 78.79L520.03 78.79L520.54 78.79L521.06 78.79L521.57 78.79L522.08 78.79L522.59 78.79L523.1 78.79L523.61 78.79L524.12 78.79L524.63 78.79L525.14 78.79L525.66 78.79L526.17 78.79L526.68 78.79L527.19 78.79L527.7 78.79L528.21 78.79L528.72 78.79L529.23 78.79L529.74 78.79L530.26 78.79L530.77 78.79L531.28 78.79L531.79 78.79L532.3 78.79L532.81 78.79L533.32 78.79L533.83 78.79L534.34 78.79L534.86 78.79L535.37 78.79L535.88 78.79L536.39 78.79L536.9 78.79" stroke="#ff0000" stroke-width="1.3" fill="none"/>
<path d="M306.9 31.38L307.41 31.38L307.92 31.38L308.43 31.38L308.94 31.38L309.46 31.38L309.97 31.38L310.48 31.38L310.99 31.38L311.5 31.38L312.01 31.38L312.52 31.38L313.03 31.38L313.54 31.38L314.06 31.38L314.57 31.38L315.08 31.38L315.59 31.38L316.1 31.38L316.61 31.38L317.12 31.38L317.63 31.38L318.14 31.38L318.66 31.38L319.17 31.38L319.68 31.38L320.19 31.38L320.7 31.38L321.21 31.38L321.72 31.38L322.23 31.38L322.74 31.38L323.26 31.38L323.77 31.38L324.28 31.38L324.79 31.38L325.3 31.38L325.81 31.38L326.32 31.38L326.83 31.38L327.34 31.38L327.86 31.38L328.37 31.38L328.88 31.38L329.39 31.38L329.9 31.38L330.41 31.38L330.92 31.38L331.43 31.38L331.94 31.38L332.46 31.38L332.97 31.38L333.48 31.38L333.99 31.38L334.5 31.38L335.01 31.38L335.52 31.38L336.03 31.38L336.54 31.38L337.06 31.38L337.57 31.38L338.08 31.38L338.59 31.38L339.1 31.38L339.61 31.38L340.12 31.38L340.63 31.38L341.14 31.38L341.66 31.38L342.17 31.38L342.68 31.38L343.19 31.38L343.7 31.38L344.21 31.38L344.72 31.38L345.23 31.38L345.74 31.38L346.26 31.38L346.77 31.38L347.28 31.38L347.79 31.38L348.3 31.38L348.81 31.38L349.32 31.38L349.83 31.38L350.34 31.38L350.86 31.38L351.37 31.38L351.88 31.38L352.39 31.38L352.9 31.38L353.41 31.38L353.92 31.38L354.43 31.38L354.94 31.38L355.46 31.38L355.97 31.38L356.48 31.38L356.99 31.38L357.5 31.38L358.01 31.38L358.52 31.38L359.03 31.38L359.54 31.38L360.06 31.38L360.57 31.38L361.08 31.38L361.59 31.38L362.1 31.38L362.61 31.38L363.12 31.38L363.63 31.38L364.14 31.38L364.66 31.38L365.17 31.38L365.68 31.38L366.19 31.38L366.7 31.38L367.21 31.38L367.72 31.38L368.23 31.38L368.74 31.38L369.26 31.38L369.77 31.38L370.28 31.38L370.79 31.38L371.3 31.38L371.81 31.38L372.32 31.38L372.83 31.38L373.34 31.38L373.86 31.38L374.37 31.38L374.88 31.38L375.39 31.38L375.9 31.38L376.41 31.38L376.92 31.38L377.43 31.38L377.94 31.38L378.46 31.38L378.97 31.38L379.48 31.38L379.99 31.38L380.5 31.38L381.01 31.38L381.52 31.38L382.03 31.38L382.54 31.38L383.06 31.38L383.57 31.38L384.08 31.38L384.59 31.38L385.1 31.38L385.61 31.38L386.12 31.38L386.63 31.38L387.14 31.38L387.66 31.38L388.17 31.38L388.68 31.38L389.19 31.38L389.7 31.38L390.21 31.38L390.72 31.38L391.23 31.38L391.74 31.38L392.26 31.38L392.77 31.38L393.28 31.38L393.79 31.38L394.3 31.38L394.81 31.38L395.32 31.38L395.83 31.38L396.34 31.38L396.86 31.38L397.37 31.38L397.88 31.38L398.39 31.38L398.9 31.38L399.41 31.38L399.92 31.38L400.43 31.38L400.94 31.38L401.46 31.38L401.97 31.38L402.48 31.38L402.99 31.38L403.5 31.38L404.01 31.38L404.52 31.38L405.03 31.38L405.54 31.38L406.06 31.38L406.57 31.38L407.08 31.38L407.59 31.38L408.1 31.38L408.61 31.38L409.12 31.38L409.63 31.38L410.14 31.38L410.66 31.38L411.17 31.38L411.68 31.38L412.19 31.38L412.7 31.38L413.21 31.38L413.72 31.38L414.23 31.38L414.74 31.38L415.26 31.38L415.77 31.38L416.28 31.38L416.79 31.38L417.3 31.38L417.81 31.38L418.32 31.38L418.83 31.38L419.34 31.38L419.86 31.38L420.37 31.38L420.88 31.38L421.39 31.38L421.9 31.38L422.41 31.38L422.92 31.38L423.43 31.38L423.94 31.38L424.46 31.38L424.97 31.38L425.48 31.38L425.99 31.38L426.5 31.38L427.01 31.38L427.52 31.38L428.03 31.38L428.54 31.38L429.06 31.38L429.57 31.38L430.08 31.38L430.59 31.38L431.1 31.38L431.61 31.38L432.12 31.38L432.63 31.38L433.14 31.38L433.66 31.38L434.17 31.38L434.68 31.38L435.19 31.38L435.7 31.38L436.21 31.38L436.72 31.38L437.23 31.38L437.74 31.38L438.26 31.38L438.77 31.38L439.28 31.38L439.79 31.38L440.3 31.38L440.81 31.38L441.32 31.38L441.83 31.38L442.34 31.38L442.86 31.38L443.37 31.38L443.88 31.38L444.39 31.38L444.9 31.38L445.41 31.38L445.92 31.38L446.43 31.38L446.94 31.38L447.46 31.38L447.97 31.38L448.48 31.38L448.99 31.38L449.5 31.38L450.01 31.38L450.52 31.38L451.03 31.38L451.54 31.38L452.06 31.38L452.57 31.38L453.08 31.38L453.59 31.38L454.1 31.38L454.61 31.38L455.12 31.38L455.63 31.38L456.14 31.38L456.66 31.38L457.17 31.38L457.68 31.38L458.19 31.38L458.7 31.38L459.21 31.38L459.72 31.38L460.23 31.38L460.74 31.38L461.26 31.38L461.77 31.38L462.28 31.38L462.79 31.38L463.3 31.38L463.81 31.38L464.32 31.38L464.83 31.38L465.34 31.38L465.86 31.38L466.37 31.38L466.88 31.38L467.39 31.38L467.9 31.38L468.41 31.38L468.92 31.38L469.43 31.38L469.94 31.38L470.46 31.38L470.97 31.38L471.48 31.38L471.99 31.38L472.5 31.38L473.01 31.38L473.52 31.38L474.03 31.38L474.54 31.38L475.06 31.38L475.57 31.38L476.08 31.38L476.59 31.38L477.1 31.38L477.61 31.38L478.12 31.38L478.63 31.38L479.14 31.38L479.66 31.38L480.17 31.38L480.68 31.38L481.19 31.38L481.7 31.38L482.21 31.38L482.72 31.38L483.23 31.38L483.74 31.38L484.26 31.38L484.77 31.38L485.28 31.38L485.79 31.38L486.3 31.38L486.81 31.38L487.32 31.38L487.83 31.38L488.34 31.38L488.86 31.38L489.37 31.38L489.88 31.38L490.39 31.38L490.9 31.38L491.41 31.38L491.92 31.38L492.43 31.38L492.94 31.38L493.46 31.38L493.97 31.38L494.48 31.38L494.99 31.38L495.5 31.38L496.01 31.38L496.52 31.38L497.03 31.38L497.54 31.38L498.06 31.38L498.57 31.38L499.08 31.38L499.59 31.38L500.1 31.38L500.61 31.38L501.12 31.38L501.63 31.38L502.14 31.38L502.66 31.38L503.17 31.38L503.68 31.38L504.19 31.38L504.7 31.38L505.21 31.38L505.72 31.38L506.23 31.38L506.74 31.38L507.26 31.38L507.77 31.38L508.28 31.42L508.79 31.48L509.3 31.58L509.81 31.7L510.32 31.86L510.83 32.03L511.34 32.23L511.86 32.45L512.37 32.69L512.88 32.93L513.39 33.19L513.9 33.45L514.41 33.71L514.92 33.96L515.43 34.21L515.94 34.44L516.46 34.66L516.97 34.86L517.48 35.04L517.99 35.19L518.5 35.32L519.01 35.41L519.52 35.48L520.03 35.51L520.54 35.51L521.06 35.51L521.57 35.51L522.08 35.51L522.59 35.51L523.1 35.51L523.61 35.51L524.12 35.51L524.63 35.51L525.14 35.51L525.66 35.51L526.17 35.51L526.68 35.51L527.19 35.51L527.7 35.51L528.21 35.51L528.72 35.51L529.23 35.51L529.74 35.51L530.26 35.51L530.77 35.51L531.28 35.51L531.79 35.51L532.3 35.51L532.81 35.51L533.32 35.51L533.83 35.51L534.34 35.51L534.86 35.51L535.37 35.51L535.88 35.51L536.39 35.51L536.9 35.51" stroke="#0000ff" stroke-width="1.3" fill="none"/>
<path d="M306.9 37.95L307.41 37.95L307.92 37.95L308.43 37.95L308.94 37.95L309.46 37.95L309.97 37.95L310.48 37.95L310.99 37.95L311.5 37.95L312.01 37.95L312.52 37.95L313.03 37.95L313.54 37.95L314.06 37.95L314.57 37.95L315.08 37.95L315.59 37.95L316.1 37.95L316.61 37.95L317.12 37.95L317.63 37.95L318.14 37.95L318.66 37.95L319.17 37.95L319.68 37.95L320.19 37.95L320.7 37.95L321.21 37.95L321.72 37.95L322.23 37.95L322.74 37.95L323.26 37.95L323.77 37.95L324.28 37.95L324.79 37.95L325.3 37.95L325.81 37.95L326.32 37.95L326.83 37.95L327.34 37.95L327.86 37.95L328.37 37.95L328.88 37.95L329.39 37.95L329.9 37.95L330.41 37.95L330.92 37.95L331.43 37.95L331.94 37.95L332.46 37.95L332.97 37.95L333.48 37.95L333.99 37.95L334.5 37.95L335.01 37.95L335.52 37.95L336.03 37.95L336.54 37.95L337.06 37.95L337.57 37.95L338.08 37.95L338.59 37.95L339.1 37.95L339.61 37.95L340.12 37.95L340.63 37.95L341.14 37.95L341.66 37.95L342.17 37.95L342.68 37.95L343.19 37.95L343.7 37.95L344.21 37.95L344.72 37.95L345.23 37.95L345.74 37.95L346.26 37.95L346.77 37.95L347.28 37.95L347.79 37.95L348.3 37.95L348.81 37.95L349.32 37.95L349.83 37.95L350.34 37.95L350.86 37.95L351.37 37.95L351.88 37.95L352.39 37.95L352.9 37.95L353.41 37.95L353.92 37.95L354.43 37.95L354.94 37.95L355.46 37.95L355.97 37.95L356.48 37.95L356.99 37.95L357.5 37.95L358.01 37.95L358.52 37.95L359.03 37.95L359.54 37.95L360.06 37.95L360.57 37.95L361.08 37.95L361.59 37.95L362.1 37.95L362.61 37.95L363.12 37.95L363.63 37.95L364.14 37.95L364.66 37.95L365.17 37.95L365.68 37.95L366.19 37.95L366.7 37.95L367.21 37.95L367.72 37.95L368.23 37.95L368.74 37.95L369.26 37.95L369.77 37.95L370.28 37.95L370.79 37.95L371.3 37.95L371.81 37.95L372.32 37.95L372.83 37.95L373.34 37.95L373.86 37.95L374.37 37.95L374.88 37.95L375.39 37.95L375.9 37.95L376.41 37.95L376.92 37.95L377.43 37.95L377.94 37.95L378.46 37.95L378.97 37.95L379.48 37.95L379.99 37.95L380.5 37.95L381.01 37.95L381.52 37.95L382.03 37.95L382.54 37.95L383.06 37.95L383.57 37.95L384.08 37.95L384.59 37.95L385.1 37.95L385.61 37.95L386.12 37.95L386.63 37.95L387.14 37.95L387.66 37.95L388.17 37.95L388.68 37.95L389.19 37.95L389.7 37.95L390.21 37.95L390.72 37.95L391.23 37.95L391.74 37.95L392.26 37.95L392.77 37.95L393.28 37.95L393.79 37.95L394.3 37.95L394.81 37.95L395.32 37.95L395.83 37.95L396.34 37.95L396.86 37.95L397.37 37.95L397.88 37.95L398.39 37.95L398.9 37.95L399.41 37.95L399.92 37.95L400.43 37.95L400.94 37.95L401.46 37.95L401.97 37.95L402.48 37.95L402.99 37.95L403.5 37.95L404.01 37.95L404.52 37.95L405.03 37.95L405.54 37.95L406.06 37.95L406.57 37.95L407.08 37.95L407.59 37.95L408.1 37.95L408.61 37.95L409.12 37.95L409.63 37.95L410.14 37.95L410.66 37.95L411.17 37.97L411.68 38.01L412.19 38.07L412.7 38.15L413.21 38.25L413.72 38.36L414.23 38.5L414.74 38.64L415.26 38.81L415.77 38.98L416.28 39.16L416.79 39.36L417.3 39.56L417.81 39.77L418.32 39.98L418.83 40.19L419.34 40.4L419.86 40.61L420.37 40.81L420.88 41.01L421.39 41.2L421.9 41.38L422.41 41.55L422.92 41.7L423.43 41.84L423.94 41.96L424.46 42.07L424.97 42.16L425.48 42.23L425.99 42.28L426.5 42.31L427.01 42.32L427.52 42.32L428.03 42.32L428.54 42.32L429.06 42.32L429.57 42.32L430.08 42.32L430.59 42.32L431.1 42.32L431.61 42.32L432.12 42.32L432.63 42.32L433.14 42.32L433.66 42.32L434.17 42.32L434.68 42.32L435.19 42.32L435.7 42.32L436.21 42.32L436.72 42.32L437.23 42.32L437.74 42.32L438.26 42.32L438.77 42.32L439.28 42.32L439.79 42.32L440.3 42.32L440.81 42.32L441.32 42.32L441.83 42.32L442.34 42.32L442.86 42.32L443.37 42.32L443.88 42.32L444.39 42.32L444.9 42.32L445.41 42.32L445.92 42.32L446.43 42.32L446.94 42.32L447.46 42.32L447.97 42.32L448.48 42.32L448.99 42.32L449.5 42.32L450.01 42.32L450.52 42.32L451.03 42.32L451.54 42.32L452.06 42.32L452.57 42.32L453.08 42.32L453.59 42.32L454.1 42.32L454.61 42.32L455.12 42.32L455.63 42.32L456.14 42.32L456.66 42.32L457.17 42.32L457.68 42.32L458.19 42.32L458.7 42.32L459.21 42.32L459.72 42.34L460.23 42.37L460.74 42.41L461.26 42.47L461.77 42.54L462.28 42.62L462.79 42.72L463.3 42.83L463.81 42.95L464.32 43.08L464.83 43.23L465.34 43.38L465.86 43.55L466.37 43.72L466.88 43.9L467.39 44.09L467.9 44.29L468.41 44.49L468.92 44.69L469.43 44.9L469.94 45.12L470.46 45.33L470.97 45.55L471.48 45.77L471.99 45.98L472.5 46.2L473.01 46.41L473.52 46.62L474.03 46.82L474.54 47.02L475.06 47.21L475.57 47.4L476.08 47.58L476.59 47.75L477.1 47.91L477.61 48.06L478.12 48.2L478.63 48.32L479.14 48.44L479.66 48.54L480.17 48.63L480.68 48.71L481.19 48.77L481.7 48.82L482.21 48.86L482.72 48.88L483.23 48.89L483.74 48.89L484.26 48.89L484.77 48.89L485.28 48.89L485.79 48.89L486.3 48.89L486.81 48.89L487.32 48.89L487.83 48.89L488.34 48.89L488.86 48.89L489.37 48.89L489.88 48.89L490.39 48.89L490.9 48.89L491.41 48.89L491.92 48.89L492.43 48.89L492.94 48.89L493.46 48.89L493.97 48.89L494.48 48.89L494.99 48.89L495.5 48.89L496.01 48.89L496.52 48.89L497.03 48.89L497.54 48.89L498.06 48.89L498.57 48.89L499.08 48.89L499.59 48.89L500.1 48.89L500.61 48.89L501.12 48.89L501.63 48.89L502.14 48.89L502.66 48.89L503.17 48.89L503.68 48.89L504.19 48.89L504.7 48.89L505.21 48.89L505.72 48.89L506.23 48.89L506.74 48.89L507.26 48.89L507.77 48.89L508.28 48.89L508.79 48.89L509.3 48.89L509.81 48.89L510.32 48.89L510.83 48.89L511.34 48.89L511.86 48.89L512.37 48.89L512.88 48.89L513.39 48.89L513.9 48.89L514.41 48.89L514.92 48.89L515.43 48.89L515.94 48.89L516.46 48.89L516.97 48.89L517.48 48.89L517.99 48.89L518.5 48.89L519.01 48.89L519.52 48.89L520.03 48.89L520.54 48.89L521.06 48.89L521.57 48.89L522.08 48.89L522.59 48.89L523.1 48.89L523.61 48.89L524.12 48.89L524.63 48.89L525.14 48.89L525.66 48.89L526.17 48.89L526.68 48.89L527.19 48.89L527.7 48.89L528.21 48.89L528.72 48.89L529.23 48.89L529.74 48.89L530.26 48.89L530.77 48.89L531.28 48.89L531.79 48.89L532.3 48.89L532.81 48.89L533.32 48.89L533.83 48.89L534.34 48.89L534.86 48.89L535.37 48.89L535.88 48.89L536.39 48.89L536.9 48.89" stroke="#008080" stroke-width="1.3" fill="none"/>
<rect x="305.6" y="83.17" width="3.6" height="3.6" fill="#000000"/>
<rect x="329.71" y="79.93" width="5.5" height="5.5" fill="#000000"/>
<rect x="355.26" y="82.85" width="5.5" height="5.5" fill="#000000"/>
<rect x="380.82" y="79.45" width="5.5" height="5.5" fill="#000000"/>
<rect x="406.37" y="84.8" width="5.5" height="5.5" fill="#000000"/>
<rect x="430.65" y="82.85" width="5.5" height="5.5" fill="#000000"/>
<rect x="457.48" y="81.88" width="5.5" height="5.5" fill="#000000"/>
<rect x="462.59" y="92.09" width="5.5" height="5.5" fill="#000000"/>
<rect x="508.59" y="93.79" width="5.5" height="5.5" fill="#000000"/>
<rect x="534.15" y="93.79" width="5.5" height="5.5" fill="#000000"/>
<circle cx="307.4" cy="69.55" r="1.8" fill="#ff0000"/>
<circle cx="332.46" cy="67.12" r="2.75" fill="#ff0000"/>
<circle cx="358.01" cy="67.12" r="2.75" fill="#ff0000"/>
<circle cx="383.57" cy="71.01" r="2.75" fill="#ff0000"/>
<circle cx="409.12" cy="66.64" r="2.75" fill="#ff0000"/>
<circle cx="433.4" cy="66.39" r="2.75" fill="#ff0000"/>
<circle cx="460.23" cy="71.5" r="2.75" fill="#ff0000"/>
<circle cx="485.79" cy="71.99" r="2.75" fill="#ff0000"/>
<circle cx="511.34" cy="78.79" r="2.75" fill="#ff0000"/>
<circle cx="536.9" cy="78.79" r="2.75" fill="#ff0000"/>
<path d="M307.4 29.33L309.38 32.92L305.42 32.92Z" fill="#0000ff"/>
<path d="M332.46 25.49L336.03 31.97L328.88 31.97Z" fill="#0000ff"/>
<path d="M358.01 24.52L361.59 31L354.44 31Z" fill="#0000ff"/>
<path d="M383.57 25.49L387.14 31.97L379.99 31.97Z" fill="#0000ff"/>
<path d="M409.12 28.89L412.7 35.38L405.55 35.38Z" fill="#0000ff"/>
<path d="M433.4 24.22L436.97 30.71L429.82 30.71Z" fill="#0000ff"/>
<path d="M460.23 28.89L463.81 35.38L456.66 35.38Z" fill="#0000ff"/>
<path d="M485.79 25.73L489.36 32.21L482.21 32.21Z" fill="#0000ff"/>
<path d="M521.57 32.78L525.14 39.27L517.99 39.27Z" fill="#0000ff"/>
<path d="M536.9 32.78L540.48 39.27L533.32 39.27Z" fill="#0000ff"/>
<path d="M307.4 40L309.38 36.41L305.42 36.41Z" fill="#008080"/>
<path d="M332.46 44.33L336.03 37.84L328.88 37.84Z" fill="#008080"/>
<path d="M358.01 42.14L361.59 35.65L354.44 35.65Z" fill="#008080"/>
<path d="M383.57 45.54L387.14 39.06L379.99 39.06Z" fill="#008080"/>
<path d="M409.12 44.08L412.7 37.6L405.55 37.6Z" fill="#008080"/>
<path d="M433.4 48.46L436.97 41.97L429.82 41.97Z" fill="#008080"/>
<path d="M460.23 45.54L463.81 39.06L456.66 39.06Z" fill="#008080"/>
<path d="M485.79 53.08L489.36 46.59L482.21 46.59Z" fill="#008080"/>
<path d="M511.34 54.05L514.92 47.57L507.77 47.57Z" fill="#008080"/>
<path d="M536.9 52.84L540.48 46.35L533.32 46.35Z" fill="#008080"/>
</g>
<path d="M328 121.9H344.4" stroke="#000000" stroke-width="1.3"/>
<rect x="334.7" y="119.6" width="4.6" height="4.6" fill="#000000"/>
<text x="346.4" y="124.54" font-family="Liberation Serif" font-weight="bold" stroke="#000" stroke-width="0.25" letter-spacing="0.1" font-size="8" text-anchor="start" >HCS</text>
<path d="M328 133.1H344.4" stroke="#ff0000" stroke-width="1.3"/>
<circle cx="337" cy="133.1" r="2.6" fill="#ff0000"/>
<text x="346.4" y="135.74" font-family="Liberation Serif" font-weight="bold" stroke="#000" stroke-width="0.25" letter-spacing="0.1" font-size="8" text-anchor="start" >HCS-NS 0.2%</text>
<path d="M328 143.2H344.4" stroke="#0000ff" stroke-width="1.3"/>
<path d="M337 139.67L340.41 145.85L333.59 145.85Z" fill="#0000ff"/>
<text x="346.4" y="145.84" font-family="Liberation Serif" font-weight="bold" stroke="#000" stroke-width="0.25" letter-spacing="0.1" font-size="8" text-anchor="start" >HCS-NS 0.4%</text>
<path d="M328 153.3H344.4" stroke="#008080" stroke-width="1.3"/>
<path d="M337 156.83L340.41 150.65L333.59 150.65Z" fill="#008080"/>
<text x="346.4" y="155.94" font-family="Liberation Serif" font-weight="bold" stroke="#000" stroke-width="0.25" letter-spacing="0.1" font-size="8" text-anchor="start" >HCS-NS 0.6%</text>
<rect x="306.9" y="11.2" width="230" height="170.2" fill="none" stroke="#000" stroke-width="1.45"/>
<path d="M35.5 387.4H39M35.5 344.62H39M35.5 301.85H39M35.5 259.07H39M35.5 216.3H39M35.5 366.01H37.5M35.5 323.24H37.5M35.5 280.46H37.5M35.5 237.69H37.5" stroke="#000" stroke-width="1.3" fill="none"/>
<rect x="54.8" y="274.05" width="15.7" height="113.35" fill="#000"/>
<rect x="70.5" y="284.74" width="16.4" height="102.66" fill="#ff0000"/>
<rect x="108.3" y="261.21" width="16.1" height="126.19" fill="#000"/>
<rect x="124.4" y="267.63" width="16" height="119.77" fill="#ff0000"/>
<rect x="162" y="224.86" width="15.7" height="162.54" fill="#000"/>
<rect x="177.7" y="229.13" width="15.9" height="158.27" fill="#ff0000"/>
<rect x="215" y="239.83" width="16.2" height="147.57" fill="#000"/>
<rect x="231.2" y="248.38" width="15.9" height="139.02" fill="#ff0000"/>
<text x="31.8" y="390.47" font-family="Liberation Serif" font-weight="bold" stroke="#000" stroke-width="0.25" letter-spacing="0.1" font-size="9.3" text-anchor="end" >0</text>
<text x="31.8" y="347.69" font-family="Liberation Serif" font-weight="bold" stroke="#000" stroke-width="0.25" letter-spacing="0.1" font-size="9.3" text-anchor="end" >2</text>
<text x="31.8" y="304.92" font-family="Liberation Serif" font-weight="bold" stroke="#000" stroke-width="0.25" letter-spacing="0.1" font-size="9.3" text-anchor="end" >4</text>
<text x="31.8" y="262.14" font-family="Liberation Serif" font-weight="bold" stroke="#000" stroke-width="0.25" letter-spacing="0.1" font-size="9.3" text-anchor="end" >6</text>
<text x="31.8" y="219.37" font-family="Liberation Serif" font-weight="bold" stroke="#000" stroke-width="0.25" letter-spacing="0.1" font-size="9.3" text-anchor="end" >8</text>
<text x="69.5" y="398.11" font-family="Liberation Serif" font-weight="bold" stroke="#000" stroke-width="0.25" letter-spacing="0.1" font-size="8.2" text-anchor="middle" >HCS</text>
<text x="122.9" y="398.11" font-family="Liberation Serif" font-weight="bold" stroke="#000" stroke-width="0.25" letter-spacing="0.1" font-size="8.2" text-anchor="middle" >HCS-NS 0.2%</text>
<text x="179.7" y="398.11" font-family="Liberation Serif" font-weight="bold" stroke="#000" stroke-width="0.25" letter-spacing="0.1" font-size="8.2" text-anchor="middle" >HCS-NS 0.4%</text>
<text x="239.8" y="398.11" font-family="Liberation Serif" font-weight="bold" stroke="#000" stroke-width="0.25" letter-spacing="0.1" font-size="8.2" text-anchor="middle" >HCS-NS 0.6%</text>
<text transform="translate(17.2,308.2) rotate(-90)" x="0" y="3.3" font-family="Liberation Serif" font-weight="bold" stroke="#000" stroke-width="0.25" letter-spacing="0.1" font-size="10" text-anchor="middle" >Siffness(N/mm)</text>
<text x="253.6" y="233.61" font-family="Liberation Serif" font-weight="bold" stroke="#000" stroke-width="0.25" letter-spacing="0.1" font-size="18.2" text-anchor="middle" >(c)</text>
<rect x="43.9" y="221.5" width="20.1" height="11.4" fill="#000"/>
<rect x="43.9" y="238.0" width="20.1" height="11.5" fill="#ff0000"/>
<text x="66.2" y="229.61" font-family="Liberation Serif" font-weight="bold" stroke="#000" stroke-width="0.25" letter-spacing="0.1" font-size="7.3" text-anchor="start" >Initial stiffness</text>
<text x="66.2" y="246.23" font-family="Liberation Serif" font-weight="bold" stroke="#000" stroke-width="0.25" letter-spacing="0.1" font-size="7.35" text-anchor="start" >Stiffness after experiment</text>
<rect x="35.5" y="216.3" width="231.5" height="171.1" fill="none" stroke="#000" stroke-width="1.45"/>
<path d="M308.6 388.5H312.1M308.6 349.63H312.1M308.6 310.77H312.1M308.6 271.9H312.1M308.6 233.03H312.1M308.6 369.07H310.6M308.6 330.2H310.6M308.6 291.33H310.6M308.6 252.47H310.6M308.6 213.6H310.6" stroke="#000" stroke-width="1.3" fill="none"/>
<rect x="334" y="273.07" width="15.7" height="115.43" fill="#000"/>
<rect x="349.7" y="281.62" width="14.8" height="106.88" fill="#ff0000"/>
<rect x="385.3" y="261.02" width="15.9" height="127.48" fill="#000"/>
<rect x="401.2" y="268.01" width="15.7" height="120.49" fill="#ff0000"/>
<rect x="437" y="229.92" width="15.4" height="158.58" fill="#000"/>
<rect x="452.4" y="233.03" width="15.6" height="155.47" fill="#ff0000"/>
<rect x="488.6" y="235.37" width="15.3" height="153.13" fill="#000"/>
<rect x="503.9" y="243.92" width="15.4" height="144.58" fill="#ff0000"/>
<text x="304.6" y="391.34" font-family="Liberation Serif" font-weight="bold" stroke="#000" stroke-width="0.25" letter-spacing="0.1" font-size="8.6" text-anchor="end" >0</text>
<text x="304.6" y="352.47" font-family="Liberation Serif" font-weight="bold" stroke="#000" stroke-width="0.25" letter-spacing="0.1" font-size="8.6" text-anchor="end" >100</text>
<text x="304.6" y="313.6" font-family="Liberation Serif" font-weight="bold" stroke="#000" stroke-width="0.25" letter-spacing="0.1" font-size="8.6" text-anchor="end" >200</text>
<text x="304.6" y="274.74" font-family="Liberation Serif" font-weight="bold" stroke="#000" stroke-width="0.25" letter-spacing="0.1" font-size="8.6" text-anchor="end" >300</text>
<text x="304.6" y="235.87" font-family="Liberation Serif" font-weight="bold" stroke="#000" stroke-width="0.25" letter-spacing="0.1" font-size="8.6" text-anchor="end" >400</text>
<text x="348.1" y="398.84" font-family="Liberation Serif" font-weight="bold" stroke="#000" stroke-width="0.25" letter-spacing="0.1" font-size="7.4" text-anchor="middle" >HCS</text>
<text x="400.5" y="398.84" font-family="Liberation Serif" font-weight="bold" stroke="#000" stroke-width="0.25" letter-spacing="0.1" font-size="7.4" text-anchor="middle" >HCS-NS 0.2%</text>
<text x="453.6" y="398.84" font-family="Liberation Serif" font-weight="bold" stroke="#000" stroke-width="0.25" letter-spacing="0.1" font-size="7.4" text-anchor="middle" >HCS-NS 0.4%</text>
<text x="508.4" y="398.84" font-family="Liberation Serif" font-weight="bold" stroke="#000" stroke-width="0.25" letter-spacing="0.1" font-size="7.4" text-anchor="middle" >HCS-NS 0.6%</text>
<text transform="translate(284.4,307.5) rotate(-90)" x="0" y="3.07" font-family="Liberation Serif" font-weight="bold" stroke="#000" stroke-width="0.25" letter-spacing="0.1" font-size="9.3" text-anchor="middle" >Load(N)</text>
<text x="524.1" y="231.41" font-family="Liberation Serif" font-weight="bold" stroke="#000" stroke-width="0.25" letter-spacing="0.1" font-size="18.2" text-anchor="middle" >(d)</text>
<rect x="320.8" y="223.6" width="18.6" height="7.6" fill="#000"/>
<rect x="320.8" y="235.5" width="18.6" height="7.7" fill="#ff0000"/>
<text x="342.4" y="230.34" font-family="Liberation Serif" font-weight="bold" stroke="#000" stroke-width="0.25" letter-spacing="0.1" font-size="8.9" text-anchor="start" >Initial load</text>
<text x="342.4" y="241.89" font-family="Liberation Serif" font-weight="bold" stroke="#000" stroke-width="0.25" letter-spacing="0.1" font-size="8.75" text-anchor="start" >Load after experiment</text>
<rect x="308.6" y="213.6" width="230.9" height="174.9" fill="none" stroke="#000" stroke-width="1.45"/>
</svg>
</body></html>
